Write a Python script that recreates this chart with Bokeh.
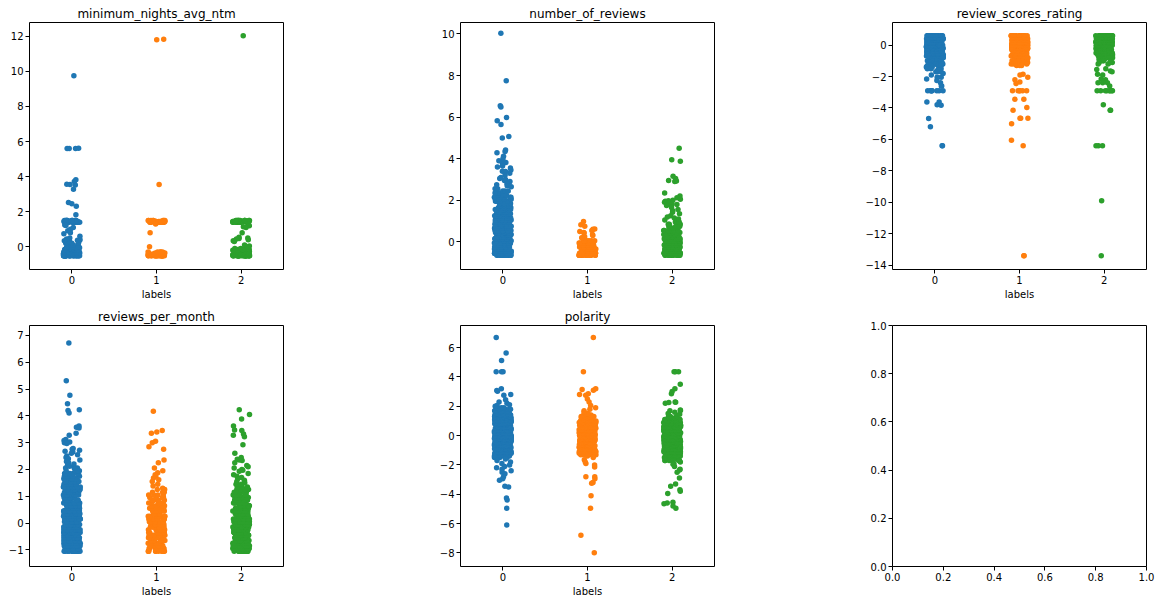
import numpy as np
from bokeh.plotting import figure
from bokeh.layouts import column, row
from bokeh.models import Range1d, FixedTicker, ColumnDataSource
from bokeh.transform import jitter
from bokeh.embed import file_html
from bokeh.resources import INLINE

LABELS = [0, 1, 2]
COLORS = ["#1f77b4", "#ff7f0e", "#2ca02c"]
X_TICKS = [0, 1, 2]
X_TICK_LABELS = ["0", "1", "2"]

# ---------------- minimum_nights_avg_ntm ----------------
MN0_DENSE = [-0.5, -0.45, -0.4, -0.35, -0.3, -0.25, -0.2, -0.15, -0.1, -0.05, 0.0, 0.1, 0.2, 0.3,
             1.4, 1.45, 1.5]
MN0_REPS = [24, 20, 16, 14, 12, 10, 10, 8, 8, 6, 5, 3, 3, 2, 14, 16, 12]
MN0_SPARSE = [9.75, 5.6, 5.6, 5.6, 5.62, 3.82, 3.72, 3.56, 3.55, 3.52, 3.28, 2.52, 2.45, 2.32, 1.83,
              1.3, 1.25, 1.22, 1.1, 1.0, 0.92, 0.8, 0.75, 0.6, 0.5, 0.45, 0.4, 0.38, 0.35]
MN1_DENSE = [-0.5, -0.45, -0.4, -0.35, -0.3, 1.4, 1.45, 1.5]
MN1_REPS = [20, 16, 12, 8, 5, 10, 12, 8]
MN1_SPARSE = [11.8, 11.82, 3.55, 1.3, 0.8, 0.0]
MN2_DENSE = [-0.5, -0.45, -0.4, -0.35, -0.3, -0.25, -0.2, -0.15, -0.1, 1.4, 1.45, 1.5]
MN2_REPS = [24, 20, 16, 14, 12, 10, 8, 6, 5, 14, 16, 12]
MN2_SPARSE = [12.02, 1.2, 1.15, 1.1, 0.8, 0.55, 0.5, 0.48, 0.45, 0.4, 0.35, 0.3, 0.1, 0.05, 0.0]
MN_YLIM = (-1.29, 12.78)
MN_YTICKS = [0, 2, 4, 6, 8, 10, 12]
MN_YLABELS = ["0", "2", "4", "6", "8", "10", "12"]

# ---------------- number_of_reviews ----------------
NR0_DENSE = [-0.65, -0.55, -0.45, -0.35, -0.25, -0.15, -0.05, 0.05, 0.15, 0.25, 0.35, 0.45, 0.55,
             0.65, 0.75, 0.85, 0.95, 1.05, 1.15, 1.25, 1.35, 1.45, 1.55, 1.65, 1.75, 1.85, 1.95,
             2.05, 2.15, 2.25, 2.35, 2.45, 2.55]
NR0_REPS = [18, 18, 16, 16, 16, 15, 15, 15, 15, 14, 14, 14, 14, 14, 14, 13, 13, 12, 12, 12, 11,
            10, 10, 8, 8, 7, 6, 5, 5, 4, 3, 3, 2]
NR0_SPARSE = [10.03, 7.75, 6.55, 6.48, 5.98, 5.82, 5.65, 5.07, 5.0, 4.42, 4.35, 4.28, 4.12, 4.0,
              3.9, 3.82, 3.78, 3.75, 3.65, 3.6, 3.55, 3.45, 3.4, 3.38, 3.3, 3.2, 3.1, 3.05, 3.0,
              2.95, 2.9, 2.85, 2.8, 2.75, 2.7, 2.65]
NR1_DENSE = [-0.65, -0.55, -0.45, -0.35, -0.25, -0.15, -0.05, 0.05]
NR1_REPS = [18, 18, 16, 16, 14, 14, 12, 10]
NR1_SPARSE = [0.98, 0.82, 0.75, 0.62, 0.6, 0.55, 0.5, 0.45, 0.42, 0.35, 0.3, 0.25, 0.2, 0.18]
NR2_DENSE = [-0.65, -0.55, -0.45, -0.35, -0.25, -0.15, -0.05, 0.05, 0.15, 0.25, 0.35, 0.45, 0.55,
             0.65, 0.75, 0.85, 0.95]
NR2_REPS = [16, 16, 15, 15, 14, 14, 12, 11, 10, 9, 8, 7, 6, 5, 5, 4, 3]
NR2_SPARSE = [4.5, 3.95, 3.88, 3.15, 3.05, 2.95, 2.93, 2.9, 2.35, 2.2, 2.12, 2.05, 2.0, 1.98, 1.95,
              1.9, 1.85, 1.82, 1.8, 1.75, 1.65, 1.55, 1.5, 1.42, 1.35, 1.25, 1.2, 1.15, 1.1, 1.05]
NR_YLIM = (-1.33, 10.55)
NR_YTICKS = [0, 2, 4, 6, 8, 10]
NR_YLABELS = ["0", "2", "4", "6", "8", "10"]

# ---------------- review_scores_rating ----------------
RS0_DENSE = [0.6, 0.5, 0.4, 0.3, 0.2, 0.1, 0.0, -0.1, -0.2, -0.3, -0.4, -0.5, -0.6, -0.7, -0.8,
             -0.9, -1.0, -1.1, -1.2, -1.3, -1.4, -1.5, -1.6, -1.7]
RS0_REPS = [24, 20, 20, 18, 18, 16, 16, 15, 15, 14, 14, 13, 12, 11, 10, 9, 8, 7, 6, 5, 4, 4, 3, 3]
RS0_SPARSE = [-1.8, -1.9, -2.05, -2.05, -2.15, -2.25, -2.4, -2.6, -2.6, -2.9, -2.9, -2.9, -2.9,
              -2.9, -2.9, -2.9, -2.9, -3.62, -3.62, -3.8, -3.82, -4.67, -5.2, -6.4, -6.4]
RS1_DENSE = [0.6, 0.5, 0.4, 0.3, 0.2, 0.1, 0.0, -0.1, -0.2, -0.3, -0.4, -0.5, -0.6, -0.7, -0.8,
             -0.9, -1.0, -1.1, -1.2, -1.3]
RS1_REPS = [24, 20, 20, 18, 18, 16, 15, 14, 13, 12, 11, 10, 9, 8, 7, 6, 5, 4, 3, 3]
RS1_SPARSE = [-1.85, -1.9, -2.05, -2.2, -2.35, -2.45, -2.9, -2.9, -2.9, -2.9, -2.9, -2.9, -3.45,
              -3.45, -3.97, -4.15, -4.65, -4.65, -4.65, -5.0, -6.05, -6.4, -13.4, -13.4]
RS2_DENSE = [0.6, 0.5, 0.4, 0.3, 0.2, 0.1, 0.0, -0.1, -0.2, -0.3, -0.4, -0.5, -0.6, -0.7, -0.8,
             -0.9, -1.0, -1.1, -1.2]
RS2_REPS = [24, 20, 20, 18, 18, 16, 15, 14, 12, 10, 9, 8, 7, 6, 5, 4, 3, 3, 2]
RS2_SPARSE = [-1.5, -1.55, -1.65, -1.7, -1.85, -1.9, -2.15, -2.2, -2.4, -2.4, -2.4, -2.6, -2.9,
              -2.9, -2.9, -2.9, -2.9, -2.9, -2.9, -2.9, -3.8, -4.15, -4.15, -6.4, -6.4, -6.4,
              -9.9, -13.4]
RS_YLIM = (-14.28, 1.44)
RS_YTICKS = [0, -2, -4, -6, -8, -10, -12, -14]
RS_YLABELS = ["0", "\u22122", "\u22124", "\u22126", "\u22128", "\u221210", "\u221212", "\u221214"]

# ---------------- reviews_per_month ----------------
RM0_DENSE = [-1.05, -0.95, -0.85, -0.75, -0.65, -0.55, -0.45, -0.35, -0.25, -0.15, -0.05, 0.05,
             0.15, 0.25, 0.35, 0.45, 0.55, 0.65, 0.75, 0.85, 0.95, 1.05, 1.15, 1.25, 1.35, 1.45,
             1.55, 1.65, 1.75, 1.85, 1.95, 2.05]
RM0_REPS = [16, 16, 16, 16, 16, 15, 15, 15, 15, 15, 15, 15, 14, 14, 14, 14, 13, 13, 13, 12, 12,
            11, 11, 10, 10, 9, 8, 7, 7, 6, 5, 5]
RM0_SPARSE = [6.72, 5.31, 4.77, 4.45, 4.23, 4.2, 4.11, 3.62, 3.57, 3.55, 3.35, 3.28, 3.12, 3.08,
              3.02, 3.0, 2.97, 2.78, 2.75, 2.72, 2.68, 2.65, 2.6, 2.55, 2.5, 2.45, 2.4, 2.35, 2.3,
              2.25, 2.2, 2.15, 2.12]
RM1_DENSE = [-1.05, -0.95, -0.85, -0.75, -0.65, -0.55, -0.45, -0.35, -0.25, -0.15, -0.05, 0.05,
             0.15, 0.25, 0.35, 0.45, 0.55, 0.65, 0.75, 0.85, 0.95, 1.05, 1.15, 1.25]
RM1_REPS = [10, 10, 10, 10, 9, 9, 9, 9, 9, 8, 8, 8, 8, 7, 7, 7, 6, 6, 5, 5, 4, 4, 3, 3]
RM1_SPARSE = [4.17, 3.45, 3.4, 3.35, 3.05, 3.0, 2.85, 2.75, 2.35, 2.25, 2.05, 1.95, 1.88, 1.8,
              1.75, 1.68, 1.62, 1.55, 1.45, 1.38, 1.3]
RM2_DENSE = [-1.05, -0.95, -0.85, -0.75, -0.65, -0.55, -0.45, -0.35, -0.25, -0.15, -0.05, 0.05,
             0.15, 0.25, 0.35, 0.45, 0.55, 0.65, 0.75, 0.85, 0.95, 1.05, 1.15, 1.25, 1.35, 1.45]
RM2_REPS = [14, 14, 14, 13, 13, 13, 12, 12, 12, 12, 12, 11, 11, 11, 10, 10, 10, 9, 9, 8, 8, 7, 6,
            5, 4, 3]
RM2_SPARSE = [4.23, 4.05, 3.88, 3.62, 3.47, 3.45, 3.32, 3.28, 3.22, 2.92, 2.6, 2.45, 2.38, 2.35,
              2.33, 2.25, 2.15, 2.1, 2.05, 2.0, 1.97, 1.93, 1.85, 1.8, 1.75, 1.7, 1.65, 1.6, 1.55,
              1.5]
RM_YLIM = (-1.62, 7.37)
RM_YTICKS = [-1, 0, 1, 2, 3, 4, 5, 6, 7]
RM_YLABELS = ["\u22121", "0", "1", "2", "3", "4", "5", "6", "7"]

# ---------------- polarity ----------------
PO0_DENSE = [-1.5, -1.4, -1.3, -1.2, -1.1, -1.0, -0.9, -0.8, -0.7, -0.6, -0.5, -0.4, -0.3, -0.2,
             -0.1, 0.0, 0.1, 0.2, 0.3, 0.4, 0.5, 0.6, 0.7, 0.8, 0.9, 1.0, 1.1, 1.2, 1.3, 1.4, 1.5,
             1.6, 1.7, 1.8, 1.9]
PO0_REPS = [6, 7, 8, 9, 10, 11, 12, 13, 14, 14, 14, 14, 14, 14, 14, 14, 14, 14, 14, 14, 14, 14,
            14, 14, 13, 12, 12, 11, 10, 9, 8, 7, 6, 5, 4]
PO0_SPARSE = [6.69, 5.64, 5.13, 4.36, 4.36, 4.36, 3.2, 3.08, 3.03, 2.8, 2.75, 2.45, 2.3, 2.2, 2.1,
              2.05, 2.0, -1.6, -1.7, -1.8, -1.9, -2.0, -2.1, -2.2, -2.3, -2.4, -2.5, -2.6, -2.8,
              -2.95, -3.05, -3.45, -3.5, -4.25, -4.4, -4.95, -6.1]
PO1_DENSE = [-1.3, -1.2, -1.1, -1.0, -0.9, -0.8, -0.7, -0.6, -0.5, -0.4, -0.3, -0.2, -0.1, 0.0,
             0.1, 0.2, 0.3, 0.4, 0.5, 0.6, 0.7, 0.8, 0.9, 1.0, 1.1, 1.2, 1.3, 1.4, 1.5]
PO1_REPS = [5, 6, 7, 8, 9, 10, 11, 11, 11, 11, 11, 11, 11, 11, 11, 11, 11, 11, 11, 10, 10, 9, 8,
            7, 6, 5, 4, 4, 3]
PO1_SPARSE = [6.69, 4.36, 3.2, 3.15, 3.1, 2.85, 2.8, 2.75, 2.5, 2.3, 2.05, 1.9, 1.8, 1.7, 1.6,
              -1.4, -1.5, -1.65, -1.8, -1.9, -2.0, -2.15, -2.8, -2.8, -2.95, -3.2, -3.25, -4.1,
              -4.95, -6.8, -8.0]
PO2_DENSE = [-1.7, -1.6, -1.5, -1.4, -1.3, -1.2, -1.1, -1.0, -0.9, -0.8, -0.7, -0.6, -0.5, -0.4,
             -0.3, -0.2, -0.1, 0.0, 0.1, 0.2, 0.3, 0.4, 0.5, 0.6, 0.7, 0.8, 0.9, 1.0, 1.1, 1.2, 1.3]
PO2_REPS = [6, 7, 8, 9, 10, 12, 13, 14, 15, 15, 15, 15, 15, 15, 15, 15, 15, 15, 15, 15, 15, 15,
            15, 14, 13, 12, 11, 9, 8, 6, 4]
PO2_SPARSE = [4.36, 4.36, 4.36, 3.5, 3.2, 3.0, 2.85, 2.3, 2.28, 2.25, 2.2, 1.75, 1.72, 1.7, 1.6,
              1.5, 1.45, -1.8, -1.9, -1.95, -2.1, -2.3, -2.35, -2.5, -2.9, -3.3, -3.45, -3.7, -3.8,
              -3.95, -4.55, -4.6, -4.65, -4.8, -4.95]
PO_YLIM = (-8.93, 7.51)
PO_YTICKS = [-8, -6, -4, -2, 0, 2, 4, 6]
PO_YLABELS = ["\u22128", "\u22126", "\u22124", "\u22122", "0", "2", "4", "6"]

# ---------------- empty panel ----------------
EMPTY_TICKS = [0.0, 0.2, 0.4, 0.6, 0.8, 1.0]
EMPTY_LABELS = ["0.0", "0.2", "0.4", "0.6", "0.8", "1.0"]

FONT = "DejaVu Sans"


def style_axis(ax, ticks, labels):
    ax.ticker = FixedTicker(ticks=ticks)
    ax.major_label_overrides = {t: l for t, l in zip(ticks, labels)}
    ax.axis_line_color = None
    ax.major_tick_line_color = "black"
    ax.major_tick_line_width = 1
    ax.major_tick_out = 4
    ax.major_tick_in = 0
    ax.minor_tick_line_color = None
    ax.major_label_text_font = FONT
    ax.major_label_text_font_size = "10px"
    ax.major_label_text_color = "black"
    ax.major_label_standoff = 2


def make_fig(width, height, left, right, top, bottom, title, ylim, yticks, ylabels,
             xlim=(-0.5, 2.5), xticks=X_TICKS, xlabels=X_TICK_LABELS, xlabel="labels"):
    p = figure(width=width, height=height, min_border_left=left, min_border_right=right,
               min_border_top=top, min_border_bottom=bottom,
               x_range=Range1d(*xlim), y_range=Range1d(*ylim),
               output_backend="svg", toolbar_location=None, title=title)
    p.xgrid.visible = False
    p.ygrid.visible = False
    p.outline_line_color = "black"
    p.outline_line_width = 1
    p.background_fill_color = "white"
    p.border_fill_color = "white"
    p.title.text_font = FONT
    p.title.text_font_size = "12px"
    p.title.text_font_style = "normal"
    p.title.text_color = "black"
    p.title.align = "center"
    p.title.standoff = 3
    style_axis(p.xaxis[0], xticks, xlabels)
    style_axis(p.yaxis[0], yticks, ylabels)
    if xlabel:
        p.xaxis.axis_label = xlabel
        p.xaxis.axis_label_text_font = FONT
        p.xaxis.axis_label_text_font_size = "10px"
        p.xaxis.axis_label_text_font_style = "normal"
        p.xaxis.axis_label_text_color = "black"
        p.xaxis.axis_label_standoff = 2
    return p


def add_strips(p, strips):
    for lab, color, (dense, reps, sparse) in zip(LABELS, COLORS, strips):
        ys = np.concatenate([np.repeat(np.array(dense, dtype=float), reps),
                             np.array(sparse, dtype=float)])
        src = ColumnDataSource(dict(x=np.full(len(ys), float(lab)), y=ys))
        p.scatter(x=jitter("x", width=0.2), y="y", source=src, size=5.5,
                  fill_color=color, line_color=None, fill_alpha=1.0)


# frames: columns at x 29 / 460 / 892 (254 wide); rows at y 22 / 320
W1, W2, W3 = 293, 431, 434
L1, L2, L3 = 29, 167, 168
R1, R2, R3 = 10, 10, 12
H1, H2 = 306, 297
T1, B1 = 22, 37
T2, B2 = 14, 37

f1 = make_fig(W1, H1, L1, R1, T1, B1, "minimum_nights_avg_ntm", MN_YLIM, MN_YTICKS, MN_YLABELS)
add_strips(f1, [(MN0_DENSE, MN0_REPS, MN0_SPARSE), (MN1_DENSE, MN1_REPS, MN1_SPARSE),
                (MN2_DENSE, MN2_REPS, MN2_SPARSE)])
f2 = make_fig(W2, H1, L2, R2, T1, B1, "number_of_reviews", NR_YLIM, NR_YTICKS, NR_YLABELS)
add_strips(f2, [(NR0_DENSE, NR0_REPS, NR0_SPARSE), (NR1_DENSE, NR1_REPS, NR1_SPARSE),
                (NR2_DENSE, NR2_REPS, NR2_SPARSE)])
f3 = make_fig(W3, H1, L3, R3, T1, B1, "review_scores_rating", RS_YLIM, RS_YTICKS, RS_YLABELS)
add_strips(f3, [(RS0_DENSE, RS0_REPS, RS0_SPARSE), (RS1_DENSE, RS1_REPS, RS1_SPARSE),
                (RS2_DENSE, RS2_REPS, RS2_SPARSE)])
f4 = make_fig(W1, H2, L1, R1, T2, B2, "reviews_per_month", RM_YLIM, RM_YTICKS, RM_YLABELS)
add_strips(f4, [(RM0_DENSE, RM0_REPS, RM0_SPARSE), (RM1_DENSE, RM1_REPS, RM1_SPARSE),
                (RM2_DENSE, RM2_REPS, RM2_SPARSE)])
f5 = make_fig(W2, H2, L2, R2, T2, B2, "polarity", PO_YLIM, PO_YTICKS, PO_YLABELS)
add_strips(f5, [(PO0_DENSE, PO0_REPS, PO0_SPARSE), (PO1_DENSE, PO1_REPS, PO1_SPARSE),
                (PO2_DENSE, PO2_REPS, PO2_SPARSE)])
f6 = make_fig(W3, H2, L3, R3, T2, B2, "", (0, 1), EMPTY_TICKS, EMPTY_LABELS,
              xlim=(0, 1), xticks=EMPTY_TICKS, xlabels=EMPTY_LABELS, xlabel=None)

layout = column(row(f1, f2, f3), row(f4, f5, f6))
open("out.html", "w").write(file_html(layout, INLINE))
